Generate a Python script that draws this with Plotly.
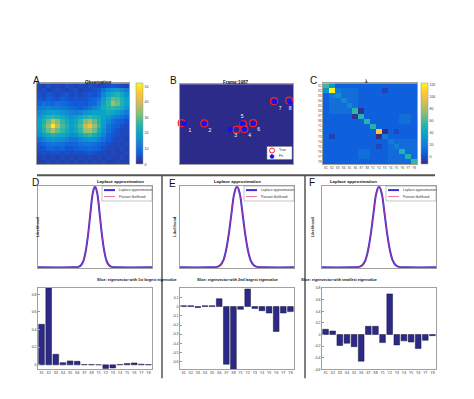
import plotly.graph_objects as go

W, H = 474, 399
def px(x): return x / W
def py(y): return 1 - y / H

FONT = "Liberation Sans"

# ---------------- data ----------------
obs = [
    [4,3,5,3,4,3,5,4,3,4,3,5,4,3,4,5,6,5,4,3],
    [4,5,3,4,5,4,3,4,5,3,4,4,5,6,10,14,16,17,15,12],
    [5,4,6,5,4,5,6,4,5,4,5,6,5,7,14,20,22,24,21,16],
    [6,5,7,6,5,7,6,5,6,5,6,7,8,10,18,24,30,28,24,20],
    [8,10,9,8,10,9,8,7,6,7,6,8,9,13,20,26,34,30,24,20],
    [11,12,13,12,12,11,10,9,8,7,9,10,13,16,22,24,26,24,22,17],
    [14,16,18,19,18,16,15,13,12,13,16,18,19,19,20,22,20,18,15,12],
    [17,21,24,26,24,22,19,16,18,21,24,26,24,22,20,17,14,12,10,8],
    [19,24,30,38,32,26,22,18,21,26,32,36,30,24,19,14,10,8,7,5],
    [20,26,34,50,36,28,24,19,22,28,38,44,34,26,18,11,8,7,5,4],
    [18,24,30,36,30,26,22,18,21,26,34,36,30,22,16,10,7,5,4,4],
    [15,19,22,24,22,21,18,15,16,21,24,26,22,18,13,8,6,5,4,4],
    [10,13,16,17,16,15,13,11,11,14,16,17,16,13,10,7,5,4,4,3],
    [7,8,10,11,10,10,8,8,8,10,11,11,10,8,7,5,4,4,3,4],
    [5,6,8,8,7,8,6,6,7,8,8,9,8,7,5,4,4,3,4,3],
    [4,5,4,5,5,4,5,4,5,4,5,6,5,4,4,3,4,3,3,4],
    [3,4,3,4,3,4,3,4,3,4,3,4,3,4,3,4,3,3,4,3],
    [3,3,4,3,4,3,4,3,4,3,4,3,4,3,4,3,3,4,3,3],
]

frame_title = "Frame:1987"
true_x = [0.015, 0.215, 0.50, 0.57, 0.56, 0.647, 0.832, 0.965]
true_y = [0.514, 0.51, 0.433, 0.44, 0.50, 0.514, 0.788, 0.796]
est_x = [0.038, 0.215, 0.444, 0.568, 0.55, 0.647, 0.838, 0.974]
est_y = [0.506, 0.506, 0.437, 0.437, 0.51, 0.51, 0.78, 0.776]
pt_labels = ["1", "2", "3", "4", "5", "6", "7", "8"]
pt_label_pos = ["bottom right", "bottom right", "bottom right", "bottom right",
                "top center", "bottom right", "bottom right", "bottom center"]

var_labels = ["X1","X2","X3","X4","X5","X6","X7","X8",
              "Y1","Y2","Y3","Y4","Y5","Y6","Y7","Y8"]
lam_base = 6
lam_diag = [58, 120, 28, 24, 24, 55, 52, 52, 50, 105, 18, 18, 20, 50, 50, 55]
# (row_start, row_end, col_start, col_end, value) lighter blocks
lam_blocks = [(2, 5, 1, 5, 13), (11, 15, 11, 15, 11), (6, 7, 13, 14, 13), (13, 14, 6, 7, 13)]
# symmetric single entries (i, j, value)
lam_pairs = [(0, 1, 32), (5, 6, -10), (9, 10, -12), (1, 10, -4), (9, 12, -2), (1, 2, 18)]

curve_x = [0, 30, 34, 36, 38, 40, 42, 44, 46, 48, 50, 52, 54, 56, 58, 60, 62, 64, 66, 70, 100]
laplace_y = [0, 0, 0.002, 0.008, 0.03, 0.085, 0.21, 0.41, 0.67, 0.91, 1, 0.91, 0.67, 0.41,
             0.21, 0.085, 0.03, 0.008, 0.002, 0, 0]
poisson_y = [0, 0, 0.002, 0.008, 0.03, 0.085, 0.21, 0.41, 0.67, 0.91, 1, 0.91, 0.67, 0.41,
             0.21, 0.085, 0.03, 0.008, 0.002, 0, 0]

eig1 = [0.46, 0.87, 0.12, 0.025, 0.045, 0.04, 0.005, 0.003, 0.002, -0.04, -0.035, 0.005,
        0.015, 0.022, 0.008, 0.003]
eig2 = [0.01, 0.01, -0.01, 0.01, 0.01, 0.085, -0.625, -0.68, -0.03, 0.19, -0.02, -0.045,
        -0.07, -0.27, -0.07, -0.055]
eig3 = [0.09, 0.06, -0.19, -0.15, -0.21, -0.46, 0.14, 0.14, -0.14, 0.70, -0.18, -0.11,
        -0.13, -0.24, -0.10, -0.02]

# build lambda matrix from the read values
n = len(var_labels)
lam = [[lam_base] * n for _ in range(n)]
for r0, r1, c0, c1, v in lam_blocks:
    for r in range(r0, r1 + 1):
        for c in range(c0, c1 + 1):
            lam[r][c] = v
            lam[c][r] = v
for i, j, v in lam_pairs:
    lam[i][j] = v
    lam[j][i] = v
for i, v in enumerate(lam_diag):
    lam[i][i] = v

parula = [
    [0.0, "#352a87"], [0.125, "#0f5cdd"], [0.25, "#1481d6"], [0.375, "#06a4ca"],
    [0.5, "#2eb7a4"], [0.625, "#87bf77"], [0.75, "#d1bb59"], [0.875, "#fec832"],
    [1.0, "#f9fb0e"],
]

fig = go.Figure()

# panel domains in pixels: (x0, x1, y0, y1)
dom = {
    1: (37, 129, 82, 164),
    2: (180, 293, 83, 164),
    3: (323, 417, 82, 164),
    4: (38, 152, 186, 269),
    5: (180, 294, 186, 269),
    6: (322, 436, 186, 269),
    7: (38, 152, 289, 371),
    8: (180, 294, 289, 371),
    9: (322, 436, 289, 371),
}
lay = {}
for k, (x0, x1, y0, y1) in dom.items():
    s = "" if k == 1 else str(k)
    lay["xaxis" + s] = dict(domain=[px(x0), px(x1)], anchor="y" + s, showgrid=False,
                            zeroline=False, showline=True, mirror=True,
                            linecolor="#a0a0a0", linewidth=0.6,
                            tickfont=dict(size=3.5, color="#333"))
    lay["yaxis" + s] = dict(domain=[py(y1), py(y0)], anchor="x" + s, showgrid=False,
                            zeroline=False, showline=True, mirror=True,
                            linecolor="#a0a0a0", linewidth=0.6,
                            tickfont=dict(size=3.5, color="#333"))

# A: observation
fig.add_trace(go.Heatmap(z=obs, colorscale=parula, zmin=0, zmax=52, xaxis="x", yaxis="y",
                         colorbar=dict(x=px(136), xanchor="left", y=py(164), yanchor="bottom",
                                       len=82 / H, lenmode="fraction", thickness=7,
                                       thicknessmode="pixels", tickvals=[0, 10, 20, 30, 40, 50],
                                       tickfont=dict(size=3.5, color="#333"), outlinewidth=0.5,
                                       outlinecolor="#999", ticks="", xpad=0, ypad=0)))
lay["xaxis"].update(showticklabels=False, ticks="")
lay["yaxis"].update(showticklabels=False, ticks="", autorange="reversed")

# B: frame
fig.add_trace(go.Scatter(x=true_x, y=true_y, mode="markers", xaxis="x2", yaxis="y2",
                         marker=dict(symbol="circle-open", size=7, color="#ff2020",
                                     line=dict(width=1.2, color="#ff2020")), showlegend=False,
                         cliponaxis=False))
fig.add_trace(go.Scatter(x=est_x, y=est_y, mode="markers+text", xaxis="x2", yaxis="y2",
                         text=pt_labels, textposition=pt_label_pos,
                         textfont=dict(size=5, color="white", family=FONT),
                         marker=dict(size=5, color="#1010ff"), showlegend=False,
                         cliponaxis=False))
lay["xaxis2"].update(range=[0, 1], showticklabels=False, ticks="")
lay["yaxis2"].update(range=[0, 1], showticklabels=False, ticks="")

# C: lambda
fig.add_trace(go.Heatmap(z=lam, x=var_labels, y=var_labels, colorscale=parula,
                         zmin=-12.6, zmax=122.7, xaxis="x3", yaxis="y3",
                         colorbar=dict(x=px(421), xanchor="left", y=py(164), yanchor="bottom",
                                       len=82 / H, lenmode="fraction", thickness=7,
                                       thicknessmode="pixels",
                                       tickvals=[0, 20, 40, 60, 80, 100, 120],
                                       tickfont=dict(size=3.5, color="#333"), outlinewidth=0.5,
                                       outlinecolor="#999", ticks="", xpad=0, ypad=0)))
lay["xaxis3"].update(ticks="", tickangle=0, tickfont=dict(size=3, color="#333"))
lay["yaxis3"].update(ticks="", autorange="reversed", tickfont=dict(size=3, color="#333"))

# D/E/F top: likelihood curves
xr = {4: [0, 100], 5: [8.3, 91.7], 6: [8.3, 91.7]}
for k in (4, 5, 6):
    fig.add_trace(go.Scatter(x=curve_x, y=laplace_y, mode="lines", line_shape="spline",
                             line=dict(color="#3a2ed8", width=2), xaxis="x%d" % k,
                             yaxis="y%d" % k, showlegend=False))
    fig.add_trace(go.Scatter(x=curve_x, y=poisson_y, mode="lines", line_shape="spline",
                             line=dict(color="rgba(230,60,120,0.75)", width=0.8),
                             xaxis="x%d" % k, yaxis="y%d" % k, showlegend=False))
    lay["xaxis%d" % k].update(range=xr[k], showticklabels=False, ticks="")
    lay["yaxis%d" % k].update(range=[-0.012, 1.0], showticklabels=False, ticks="")

# D/E/F bottom: eigenvectors
ranges = {7: ([-0.05, 0.87], [0, 0.2, 0.4, 0.6, 0.8], ["0", "0.2", "0.4", "0.6", "0.8"]),
          8: ([-0.68, 0.2], [-0.6, -0.5, -0.4, -0.3, -0.2, -0.1, 0, 0.1],
              ["-0.6", "-0.5", "-0.4", "-0.3", "-0.2", "-0.1", "0", "0.1"]),
          9: ([-0.6, 0.8], [-0.6, -0.4, -0.2, 0, 0.2, 0.4, 0.6, 0.8],
              ["-0.6", "-0.4", "-0.2", "0", "0.2", "0.4", "0.6", "0.8"])}
for k, vals in zip((7, 8, 9), (eig1, eig2, eig3)):
    fig.add_trace(go.Bar(x=var_labels, y=vals, xaxis="x%d" % k, yaxis="y%d" % k,
                         marker=dict(color="#2c2a86", line=dict(color="#15153d", width=0.5)),
                         width=0.8, showlegend=False))
    r, tv, tt = ranges[k]
    lay["xaxis%d" % k].update(ticks="", tickangle=0)
    lay["yaxis%d" % k].update(range=r, tickvals=tv, ticktext=tt, ticks="inside",
                              ticklen=2, tickcolor="#999", tickwidth=0.5)

shapes = []
annotations = []

# B background
shapes.append(dict(type="rect", xref="x2 domain", yref="y2 domain", x0=0, x1=1, y0=0, y1=1,
                   fillcolor="#2d2b8a", line=dict(width=0), layer="below"))

# legend for B
shapes.append(dict(type="rect", xref="paper", yref="paper", x0=px(267), x1=px(292),
                   y0=py(159), y1=py(146), fillcolor="white", line=dict(color="#888", width=0.5)))
shapes.append(dict(type="circle", xref="paper", yref="paper", x0=px(269.5), x1=px(274.5),
                   y0=py(152.5), y1=py(147.5), line=dict(color="#ff2020", width=1)))
shapes.append(dict(type="circle", xref="paper", yref="paper", x0=px(270), x1=px(274),
                   y0=py(158), y1=py(154), fillcolor="#1010ff", line=dict(color="#1010ff", width=0.5)))
annotations.append(dict(x=px(277), y=py(150), xref="paper", yref="paper", text="True",
                        showarrow=False, xanchor="left", font=dict(size=3.5, color="#333")))
annotations.append(dict(x=px(277), y=py(156), xref="paper", yref="paper", text="Fit",
                        showarrow=False, xanchor="left", font=dict(size=3.5, color="#333")))

# legends for top curve plots
for right in (152, 294, 436):
    x0 = right - 50
    shapes.append(dict(type="rect", xref="paper", yref="paper", x0=px(x0), x1=px(right),
                       y0=py(201), y1=py(186), fillcolor="white",
                       line=dict(color="#888", width=0.5)))
    shapes.append(dict(type="line", xref="paper", yref="paper", x0=px(x0 + 2), x1=px(x0 + 13),
                       y0=py(190), y1=py(190), line=dict(color="#3a2ed8", width=2)))
    shapes.append(dict(type="line", xref="paper", yref="paper", x0=px(x0 + 2), x1=px(x0 + 13),
                       y0=py(196.5), y1=py(196.5), line=dict(color="#e04070", width=0.7)))
    annotations.append(dict(x=px(x0 + 15), y=py(190), xref="paper", yref="paper",
                            text="Laplace approximation", showarrow=False, xanchor="left",
                            font=dict(size=3.3, color="#333")))
    annotations.append(dict(x=px(x0 + 15), y=py(196.5), xref="paper", yref="paper",
                            text="Poisson likelihood", showarrow=False, xanchor="left",
                            font=dict(size=3.3, color="#333")))

# separator lines
shapes.append(dict(type="line", xref="paper", yref="paper", x0=px(37), x1=px(435),
                   y0=py(175), y1=py(175), line=dict(color="#555", width=2)))
for xv in (162, 305):
    shapes.append(dict(type="line", xref="paper", yref="paper", x0=px(xv), x1=px(xv),
                       y0=py(175), y1=py(380), line=dict(color="#555", width=1.5)))

# titles
titles = [("Observation", 83, 77, 4.5), (frame_title, 236, 77, 4.5), ("λ", 370, 76, 4.5),
          ("Laplace approximation", 95, 181, 4.3), ("Laplace approximation", 237, 181, 4.3),
          ("Laplace approximation", 379, 181, 4.3),
          ("Slice: eigenvector with 1st largest eigenvalue", 95, 285, 3.7),
          ("Slice: eigenvector with 2nd largest eigenvalue", 237, 285, 3.7),
          ("Slice: eigenvector with smallest eigenvalue", 379, 285, 3.7)]
for t, x, y, fs in titles:
    annotations.append(dict(x=px(x), y=py(y), xref="paper", yref="paper", text="<b>%s</b>" % t,
                            showarrow=False, font=dict(size=fs, color="#111")))

letters = [("A", 31, 72), ("B", 173, 72), ("C", 313, 72), ("D", 30, 182), ("E", 172, 183),
           ("F", 312, 182)]
for t, x, y in letters:
    annotations.append(dict(x=px(x), y=py(y), xref="paper", yref="paper", text=t,
                            showarrow=False, font=dict(size=10, color="#111")))

for xv in (33, 175, 317):
    annotations.append(dict(x=px(xv), y=py(227), xref="paper", yref="paper",
                            text="<b>Likelihood</b>", textangle=-90, showarrow=False,
                            font=dict(size=4, color="#222")))

fig.update_layout(width=W, height=H, margin=dict(l=0, r=0, t=0, b=0),
                  paper_bgcolor="white", plot_bgcolor="white",
                  font=dict(family=FONT, color="#333"), showlegend=False,
                  shapes=shapes, annotations=annotations, bargap=0.2, **lay)

fig.write_html("out.html", config={"displayModeBar": False},
               post_script="document.body.style.margin='0';")
